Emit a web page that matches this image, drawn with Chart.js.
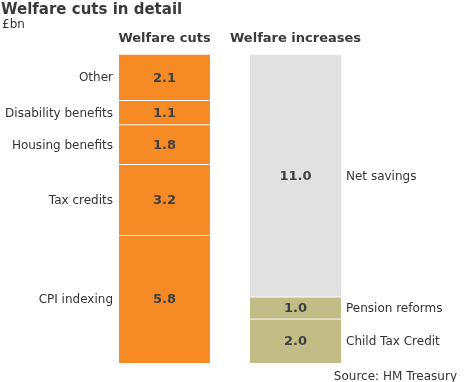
<!DOCTYPE html>
<html><head><meta charset="utf-8">
<script src="https://cdn.jsdelivr.net/npm/chart.js@4/dist/chart.umd.min.js"></script>
<style>html,body{margin:0;padding:0;background:#fff}#wrap{width:466px;height:382px;position:relative}</style>
</head><body><div id="wrap"><canvas id="c" width="466" height="382"></canvas></div>
<script>
const groups = ["Welfare cuts", "Welfare increases"];
const cutLabels = ["CPI indexing", "Tax credits", "Housing benefits", "Disability benefits", "Other"];
const cutValues = [5.8, 3.2, 1.8, 1.1, 2.1];
const incLabels = ["Child Tax Credit", "Pension reforms", "Net savings"];
const incValues = [2.0, 1.0, 11.0];
const incColors = ["#c2bd87", "#c2bd87", "#e1e1e1"];
const cutColor = "#f68b26";
const FONT = "DejaVu Sans";

const datasets = [];
cutLabels.forEach((l, i) => datasets.push({label: l, data: [cutValues[i], null], side: 0, backgroundColor: cutColor}));
incLabels.forEach((l, i) => datasets.push({label: l, data: [null, incValues[i]], side: 1, backgroundColor: incColors[i]}));
datasets.forEach(d => { d.borderColor = "#ffffff"; d.borderWidth = {top: 1, bottom: 0, left: 0, right: 0}; d.borderSkipped = false; d.barThickness = 91; });

const labelPlugin = {
  id: "labels",
  afterDatasetsDraw(chart) {
    const ctx = chart.ctx;
    ctx.save();
    ctx.textBaseline = "middle";
    chart.data.datasets.forEach((ds, di) => {
      const meta = chart.getDatasetMeta(di);
      const el = meta.data[ds.side];
      const val = ds.data[ds.side];
      const top = Math.min(el.y, el.base), bot = Math.max(el.y, el.base);
      const cy = (top + bot) / 2 + 1;
      ctx.fillStyle = "#404040";
      ctx.font = "bold 13px '" + FONT + "'";
      ctx.textAlign = "center";
      ctx.fillText(val.toFixed(1), el.x, cy);
      ctx.fillStyle = "#333333";
      ctx.font = "12px '" + FONT + "'";
      if (ds.side === 0) { ctx.textAlign = "right"; ctx.fillText(ds.label, el.x - el.width / 2 - 6, cy); }
      else { ctx.textAlign = "left"; ctx.fillText(ds.label, el.x + el.width / 2 + 5, cy); }
    });
    ctx.fillStyle = "#3a3a3a";
    ctx.font = "bold 13px '" + FONT + "'";
    ctx.textAlign = "center";
    ctx.textBaseline = "alphabetic";
    groups.forEach((g, i) => {
      const x = chart.scales.x.getPixelForValue(i);
      ctx.fillText(g, x, 42);
    });
    ctx.textAlign = "left";
    ctx.font = "bold 15px '" + FONT + "'";
    ctx.fillText("Welfare cuts in detail", 1, 14);
    ctx.font = "12px '" + FONT + "'";
    ctx.fillStyle = "#333333";
    ctx.fillText("£bn", 2, 28);
    ctx.textAlign = "right";
    ctx.fillText("Source: HM Treasury", 457, 380);
    ctx.restore();
  }
};

new Chart(document.getElementById("c"), {
  type: "bar",
  data: {labels: groups, datasets},
  options: {
    responsive: false, animation: false,
    layout: {padding: {left: 99, right: 105, top: 54, bottom: 19}},
    plugins: {legend: {display: false}, tooltip: {enabled: false}},
    scales: {
      x: {stacked: true, display: false},
      y: {stacked: true, display: false, min: 0, max: 14}
    }
  },
  plugins: [labelPlugin]
});
</script></body></html>
